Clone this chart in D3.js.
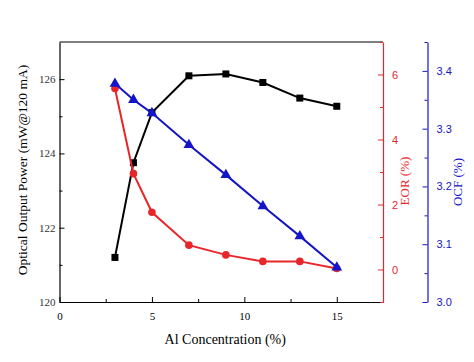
<!DOCTYPE html>
<html>
<head>
<meta charset="utf-8">
<script src="https://cdn.jsdelivr.net/npm/d3@7"></script>
<style>
body{margin:0;background:#fff;}
svg{display:block;}
</style>
</head>
<body>
<svg id="drawspace" width="474" height="362"></svg>
<script>
// data
let alConc = [3, 4, 5, 7, 9, 11, 13, 15];
let power = [121.2, 123.75, 125.1, 126.09, 126.14, 125.91, 125.49, 125.27];
let eor = [5.57, 2.95, 1.76, 0.75, 0.45, 0.25, 0.25, 0.03];
let ocf = [3.378, 3.350, 3.327, 3.272, 3.220, 3.166, 3.114, 3.06];

let xTicks = [0, 5, 10, 15];
let powerTicks = [120, 122, 124, 126];
let eorTicks = [0, 2, 4, 6];
let ocfTicks = [3.0, 3.1, 3.2, 3.3, 3.4];

let ds = d3.select("#drawspace");
let L = 59.5, R = 383, T = 42, B = 302;
let blueX = 427.5;
let serif = "'Liberation Serif','Times New Roman',serif";
let sans = "'Liberation Sans',Arial,sans-serif";

let xscale = d3.scaleLinear().domain([0, 17.5]).range([L, R]);
let yscale = d3.scaleLinear().domain([120, 127]).range([B, T]);
let yscale1 = d3.scaleLinear().domain([-1, 7]).range([B, T]);
let yscale2 = d3.scaleLinear().domain([3.0, 3.45]).range([B, T]);

// top frame line
ds.append("line").attr("x1", L).attr("x2", R).attr("y1", T).attr("y2", T)
  .attr("stroke", "#000").attr("stroke-width", 1);

function styleAxis(g, color, font) {
  g.select(".domain").attr("stroke", color).attr("stroke-width", 1.2);
  g.selectAll(".tick line").attr("stroke", color);
  g.selectAll(".tick text").attr("fill", color).attr("font-family", font).attr("font-size", 11);
}

// bottom axis
let gx = ds.append("g").attr("transform", "translate(0," + B + ")")
  .call(d3.axisBottom(xscale).tickValues(xTicks).tickFormat(d3.format("d")).tickSizeInner(-5).tickSizeOuter(0).tickPadding(10));
styleAxis(gx, "#000", serif);
ds.append("g").attr("transform", "translate(0," + B + ")")
  .call(d3.axisBottom(xscale).tickValues([2.5, 7.5, 12.5]).tickSize(-3).tickFormat(""))
  .call(g => g.select(".domain").remove());

// left axis
let gy = ds.append("g").attr("transform", "translate(" + L + ",0)")
  .call(d3.axisLeft(yscale).tickValues(powerTicks).tickFormat(d3.format("d")).tickSizeInner(-5).tickSizeOuter(0).tickPadding(4));
styleAxis(gy, "#000", serif);
gy.selectAll(".tick text").attr("fill", "#333");
ds.append("g").attr("transform", "translate(" + L + ",0)")
  .call(d3.axisLeft(yscale).tickValues([121, 123, 125]).tickSize(-3).tickFormat(""))
  .call(g => g.select(".domain").remove());

// red axis
let gr = ds.append("g").attr("transform", "translate(" + R + ",0)")
  .call(d3.axisRight(yscale1).tickValues(eorTicks).tickFormat(d3.format("d")).tickSizeInner(-5).tickSizeOuter(0).tickPadding(9));
styleAxis(gr, "#e8262a", sans);
ds.append("g").attr("transform", "translate(" + R + ",0)")
  .call(d3.axisRight(yscale1).tickValues([-1, 1, 3, 5, 7]).tickSize(-3).tickFormat(""))
  .call(g => g.select(".domain").remove())
  .selectAll("line").attr("stroke", "#e8262a");

// blue axis
let gb = ds.append("g").attr("transform", "translate(" + blueX + ",0)")
  .call(d3.axisRight(yscale2).tickValues(ocfTicks).tickFormat(d3.format(".1f")).tickSizeInner(-5).tickSizeOuter(0).tickPadding(9));
styleAxis(gb, "#1515c8", sans);
ds.append("g").attr("transform", "translate(" + blueX + ",0)")
  .call(d3.axisRight(yscale2).tickValues([3.05, 3.15, 3.25, 3.35, 3.45]).tickSize(-3).tickFormat(""))
  .call(g => g.select(".domain").remove())
  .selectAll("line").attr("stroke", "#1515c8");

// axis titles
ds.append("text").attr("transform", "translate(27," + 170 + ") rotate(-90)")
  .attr("text-anchor", "middle").attr("font-family", serif).attr("font-size", 13.5)
  .attr("fill", "#000").text("Optical Output Power (mW@120 mA)");
ds.append("text").attr("transform", "translate(409," + 181 + ") rotate(-90)")
  .attr("text-anchor", "middle").attr("font-family", serif).attr("font-size", 13)
  .attr("fill", "#e8262a").text("EOR (%)");
ds.append("text").attr("transform", "translate(462," + 182 + ") rotate(-90)")
  .attr("text-anchor", "middle").attr("font-family", serif).attr("font-size", 13)
  .attr("fill", "#1515c8").text("OCF (%)");
ds.append("text").attr("x", (L + R) / 2 + 4).attr("y", 344)
  .attr("text-anchor", "middle").attr("font-family", serif).attr("font-size", 14)
  .attr("fill", "#000").text("Al Concentration (%)");

// black series
let myLine = d3.line().x((d, i) => xscale(alConc[i])).y(d => yscale(d));
ds.append("path").datum(power).attr("d", myLine).attr("fill", "none").attr("stroke", "#000").attr("stroke-width", 2);
ds.append("g").selectAll("rect").data(power).enter().append("rect")
  .attr("x", (d, i) => xscale(alConc[i]) - 3.5).attr("y", d => yscale(d) - 3.5)
  .attr("width", 7).attr("height", 7).attr("fill", "#000");

// red series
let myLine1 = d3.line().x((d, i) => xscale(alConc[i])).y(d => yscale1(d));
ds.append("path").datum(eor).attr("d", myLine1).attr("fill", "none").attr("stroke", "#e8262a").attr("stroke-width", 2);
ds.append("g").selectAll("circle").data(eor).enter().append("circle")
  .attr("cx", (d, i) => xscale(alConc[i])).attr("cy", d => yscale1(d))
  .attr("r", 3.8).attr("fill", "#e8262a");

// blue series
let myLine2 = d3.line().x((d, i) => xscale(alConc[i])).y(d => yscale2(d));
ds.append("path").datum(ocf).attr("d", myLine2).attr("fill", "none").attr("stroke", "#1515c8").attr("stroke-width", 2);
let tri = d3.symbol().type(d3.symbolTriangle).size(50);
ds.append("g").selectAll("path").data(ocf).enter().append("path")
  .attr("d", tri)
  .attr("transform", (d, i) => "translate(" + xscale(alConc[i]) + "," + yscale2(d) + ")")
  .attr("fill", "#1515c8");
</script>
</body>
</html>
